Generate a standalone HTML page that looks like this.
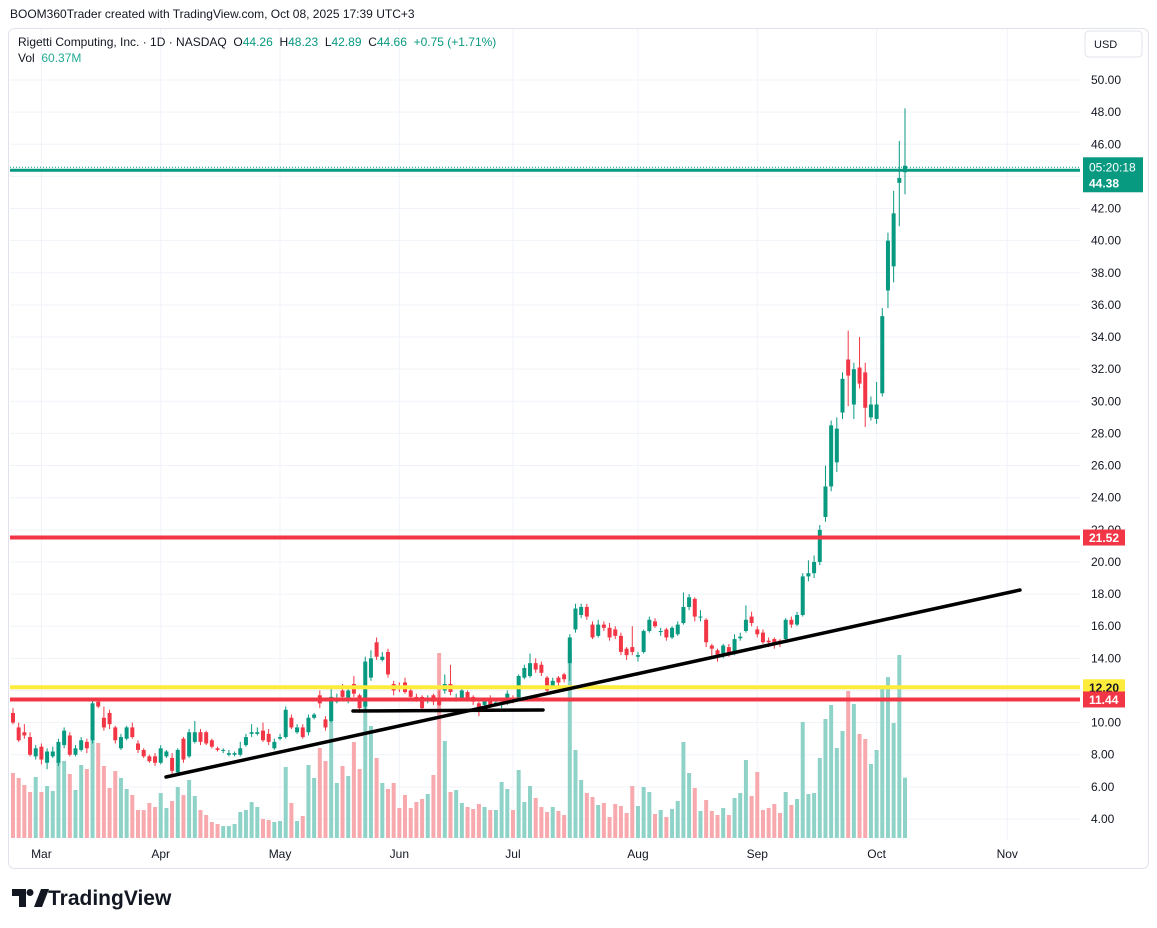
<!DOCTYPE html>
<html><head><meta charset="utf-8"><style>
html,body{margin:0;padding:0;background:#fff;}
svg{display:block;font-family:"Liberation Sans",Arial,sans-serif;}
.pre{white-space:pre;}
</style></head><body>
<svg id="chart" width="1157" height="928" viewBox="0 0 1157 928" xmlns="http://www.w3.org/2000/svg">
<rect x="0" y="0" width="1157" height="928" fill="#ffffff"/>
<text x="10" y="18" font-size="12" fill="#131722">BOOM360Trader created with TradingView.com, Oct 08, 2025 17:39 UTC+3</text>
<rect x="8.5" y="28.5" width="1140" height="840" rx="6" fill="none" stroke="#e0e3eb"/>
<g id="grid"></g>
<g id="vol"></g>
<g id="candles"></g>
<g id="lines"></g>
<g id="axis"></g>
<g id="taxis"></g>
<text class="pre" x="18" y="46" font-size="12" fill="#131722">Rigetti Computing, Inc. · 1D · NASDAQ  O<tspan fill="#089981">44.26</tspan>  H<tspan fill="#089981">48.23</tspan>  L<tspan fill="#089981">42.89</tspan>  C<tspan fill="#089981">44.66</tspan>  <tspan fill="#089981">+0.75 (+1.71%)</tspan></text>
<text class="pre" x="18" y="62" font-size="12" fill="#131722">Vol  <tspan fill="#22ab94">60.37M</tspan></text>
<rect x="1085" y="31" width="57" height="26" rx="4" fill="#fff" stroke="#e0e3eb"/>
<text x="1094" y="48" font-size="11" fill="#131722">USD</text>
<g>
<path d="M12 889h14v18h-7v-11h-7z" fill="#131722"/>
<circle cx="30" cy="892.5" r="3.5" fill="#131722"/>
<path d="M34 907l7-18h8l-7 18z" fill="#131722"/>
<text x="48" y="905" font-size="21" font-weight="bold" fill="#131722">TradingView</text>
</g>
</svg>
<script>
const opens=[10.6,9.7,9.4,9.1,7.9,8.5,7.5,7.9,7.5,8.6,9.2,8.0,8.3,8.8,8.9,11.3,10.3,10.6,9.7,8.4,9.0,9.7,8.7,8.3,7.9,7.9,7.5,7.9,7.8,6.9,9.0,7.9,8.8,9.4,9.4,8.9,8.4,8.3,8.0,8.0,8.0,8.6,9.3,9.3,9.5,9.3,8.4,9.0,9.1,10.3,9.4,9.7,9.4,10.3,11.7,10.2,10.1,11.3,12.0,11.4,12.4,11.7,11.0,12.8,15.0,13.9,14.4,12.4,12.2,12.5,12.0,11.6,11.6,11.35,11.7,11.4,12.0,12.4,11.5,11.5,11.9,11.6,11.2,11.1,11.5,11.2,11.15,11.2,11.5,11.5,12.8,12.9,13.7,13.6,12.8,12.2,12.8,13.0,13.7,15.8,16.7,17.2,16.1,15.4,16.1,15.9,15.8,15.4,14.6,14.7,14.1,14.4,15.7,16.3,15.65,15.8,15.3,15.5,16.2,17.2,17.7,16.55,16.4,14.8,14.5,14.3,14.7,14.3,15.25,15.7,16.6,15.8,15.6,15.1,15.2,15.1,15.2,16.4,16.1,16.7,19.1,19.3,20.0,22.8,24.7,26.2,29.3,32.6,29.8,32.1,31.8,29.0,28.9,30.5,36.9,38.4,43.6,44.26];
const closes=[10.0,8.9,9.2,8.0,8.4,7.7,8.2,8.2,8.8,9.5,8.0,8.4,8.9,8.4,11.2,11.0,9.7,9.9,8.9,9.1,9.7,9.1,8.3,7.9,7.6,7.5,8.4,8.2,7.0,8.3,7.7,9.4,9.4,8.8,8.7,8.5,8.3,8.3,8.1,8.1,8.4,9.1,9.4,9.4,8.9,8.8,8.8,9.1,10.8,9.7,9.7,9.1,10.3,10.5,11.2,9.7,11.6,11.45,11.6,12.0,11.8,10.9,13.8,14.0,14.1,14.1,13.0,12.0,12.1,11.9,11.6,11.55,10.9,11.45,11.3,11.1,12.4,11.9,11.55,12.0,11.5,11.3,10.9,11.4,11.0,11.25,11.2,11.8,11.3,12.9,13.4,13.7,13.3,13.1,12.0,12.6,12.5,12.7,15.3,17.1,17.2,16.6,15.3,16.1,15.9,15.3,15.4,14.4,14.2,14.4,14.2,15.7,16.4,16.0,15.7,15.3,15.9,16.1,17.2,17.8,16.6,16.6,15.0,14.6,14.2,14.8,14.3,15.2,15.35,16.4,16.2,15.5,15.0,15.0,14.9,15.0,16.4,16.1,16.7,19.1,19.3,20.0,22.0,24.7,28.5,28.3,31.4,31.6,32.0,31.1,29.6,29.8,29.8,35.3,40.0,41.7,43.9,44.66];
const highs=[10.9,10.0,9.9,9.4,8.6,8.7,8.4,8.5,9.0,9.7,9.4,8.6,9.1,9.0,11.4,11.5,11.0,10.8,9.8,9.3,9.8,10.0,8.9,8.4,8.0,8.1,8.6,8.3,8.1,8.4,9.1,9.6,10.1,9.6,9.5,9.0,8.5,8.4,8.3,8.2,8.8,9.3,9.9,9.7,10.0,9.6,9.0,9.3,11.0,10.5,9.9,9.9,10.5,10.6,12.0,10.4,12.3,11.8,12.4,12.2,12.9,11.8,14.1,14.5,15.3,14.4,14.6,12.6,12.5,12.8,12.2,11.8,11.7,11.7,11.8,12.0,13.0,13.6,11.8,12.2,12.0,11.7,11.3,11.5,11.7,11.4,11.3,12.0,11.7,13.0,13.6,14.3,14.0,13.8,12.9,12.8,12.9,13.1,15.5,17.4,17.4,17.4,16.3,16.4,16.3,16.2,16.0,15.6,14.7,16.0,14.4,15.8,16.6,16.5,15.9,15.9,16.0,16.3,18.1,18.0,17.8,17.0,16.5,14.9,14.6,14.9,14.9,15.5,15.6,17.3,16.9,16.0,15.8,15.3,15.3,15.2,16.5,16.6,16.9,19.3,20.1,20.4,22.3,26.0,28.8,29.0,31.8,34.4,32.4,34.0,32.4,30.3,31.2,35.8,40.5,43.1,46.2,48.23];
const lows=[9.9,8.8,9.0,7.9,7.7,7.4,7.1,7.8,7.3,8.4,7.9,7.9,8.2,8.1,8.7,10.9,9.5,9.6,8.7,8.3,8.9,9.0,8.1,7.8,7.5,7.3,7.4,7.8,6.8,6.7,7.5,7.8,8.7,8.6,8.6,8.4,8.2,8.1,7.9,7.9,7.9,8.5,9.1,9.2,8.8,8.6,8.3,8.9,9.0,9.6,9.3,9.0,9.2,10.2,10.9,9.5,10.0,11.2,11.4,11.2,11.6,10.6,10.8,12.6,13.9,13.8,12.8,11.7,11.9,11.8,11.4,11.3,10.7,11.2,11.1,11.0,11.8,11.7,11.3,11.4,11.3,11.1,10.4,10.9,10.9,11.0,10.9,11.1,11.2,11.4,12.7,12.8,13.1,12.9,11.9,12.1,12.3,12.5,12.6,15.6,16.5,16.4,15.2,15.3,15.7,15.1,15.2,14.2,13.9,14.2,13.8,14.3,15.6,15.9,15.4,15.1,15.2,15.4,16.1,17.0,16.3,16.3,14.7,14.1,13.8,14.0,14.1,14.2,15.1,15.6,16.0,15.3,14.9,14.7,14.6,14.7,15.1,15.9,16.0,16.6,18.8,19.0,19.8,22.5,24.4,25.6,28.9,29.7,28.9,30.8,28.4,28.8,28.6,30.3,35.8,37.4,40.9,42.89];
const volumes=[65,60,53,46,61,46,52,47,77,77,64,48,73,69,98,95,72,50,67,60,49,43,28,28,35,31,45,30,37,51,43,58,42,28,23,16,14,12,12,14,26,28,36,31,19,18,16,17,71,35,17,22,73,60,90,77,140,55,72,62,96,69,135,112,80,55,49,55,30,43,30,36,39,44,63,185,97,46,48,35,31,29,34,31,28,28,56,49,28,68,36,52,40,31,26,31,27,23,188,88,58,45,41,33,35,21,34,32,25,52,32,51,46,24,28,21,29,37,96,65,50,27,38,27,23,30,23,40,45,78,42,66,28,30,34,25,46,33,39,116,44,45,80,119,133,90,107,147,134,104,99,74,88,152,161,115,183,60.37];
const priceTicks=[50,48,46,42,40,38,36,34,32,30,28,26,24,22,20,18,16,14,10,8,6,4];
const monthLabels=["Mar","Apr","May","Jun","Jul","Aug","Sep","Oct","Nov"];
const monthIndex=[5,26,47,68,88,110,131,152,175];
const levelPrices=[44.38,21.52,12.20,11.44];

const NS="http://www.w3.org/2000/svg";
const X0=13, DX=892/157;
function xs(i){return X0+i*DX;}
function ys(p){return 80+(50-p)*16.065;}
function yv(v){return 838-v*1.0;}
function mk(tag,attrs,parent){const e=document.createElementNS(NS,tag);for(const k in attrs)e.setAttribute(k,attrs[k]);parent.appendChild(e);return e;}
const grid=document.getElementById('grid'),vol=document.getElementById('vol'),cg=document.getElementById('candles'),lg=document.getElementById('lines'),ax=document.getElementById('axis'),tx=document.getElementById('taxis');
const allTicks=[50,48,46,44,42,40,38,36,34,32,30,28,26,24,22,20,18,16,14,12,10,8,6,4];
allTicks.forEach(p=>{const l=mk('line',{x1:10,x2:1080,y1:ys(p),y2:ys(p),stroke:'#f0f3fa','stroke-width':1},grid);

});
monthIndex.forEach(i=>{const l=mk('line',{x1:xs(i),x2:xs(i),y1:29,y2:840,stroke:'#f0f3fa','stroke-width':1},grid);

});
volumes.forEach((v,i)=>{const up=closes[i]>=opens[i];
const r=mk('rect',{x:xs(i)-2,y:yv(v),width:4,height:838-yv(v),fill:up?'#8fd3c8':'#f7a9ad'},vol);

});
opens.forEach((o,i)=>{const c=closes[i];const up=c>=o;const col=up?'#089981':'#f23645';
const w=mk('line',{x1:xs(i),x2:xs(i),y1:ys(highs[i]),y2:ys(lows[i]),stroke:col,'stroke-width':1},cg);


const top=ys(Math.max(o,c)),bot=ys(Math.min(o,c));
const b=mk('rect',{x:xs(i)-2,y:top,width:4,height:Math.max(1,bot-top),fill:col},cg);

});
const lvlCol=['#089981','#f23645','#ffeb3b','#f23645'];
const dl=mk('line',{x1:10,x2:1080,y1:ys(levelPrices[0])-3,y2:ys(levelPrices[0])-3,stroke:'#089981','stroke-width':1,'stroke-dasharray':'1 2'},lg);


levelPrices.forEach((p,k)=>{const l=mk('line',{x1:10,x2:1080,y1:ys(p),y2:ys(p),stroke:lvlCol[k],'stroke-width':k==0?3:4},lg);

});
const t1=mk('line',{x1:166,y1:777,x2:1020,y2:590,stroke:'#000','stroke-width':3.5,'stroke-linecap':'round'},lg);


const t2=mk('line',{x1:353,y1:711,x2:543,y2:710,stroke:'#000','stroke-width':3.5,'stroke-linecap':'round'},lg);


priceTicks.forEach(p=>{const t=mk('text',{x:1091,y:ys(p)+4,'font-size':12,fill:'#131722'},ax);t.textContent=p.toFixed(2);

});
const tagCols=['#089981','#f23645','#ffeb3b','#f23645'],tagTxt=['#fff','#fff','#131722','#fff'];
levelPrices.forEach((p,k)=>{const y=ys(p);
if(k==0){const r=mk('rect',{x:1083,y:y-13,width:60,height:35,fill:tagCols[0]},ax);


const t=mk('text',{x:1089,y:y+1,'font-size':12,fill:'#fff'},ax);t.textContent='05:20:18';


const t2=mk('text',{x:1089,y:y+17,'font-size':12,'font-weight':'bold',fill:'#fff'},ax);t2.textContent=p.toFixed(2);

}
else{const r=mk('rect',{x:1083,y:y-8,width:42,height:16,fill:tagCols[k]},ax);


const t=mk('text',{x:1089,y:y+4.5,'font-size':12,'font-weight':'bold',fill:tagTxt[k]},ax);t.textContent=p.toFixed(2);

}});
monthLabels.forEach((m,k)=>{const t=mk('text',{x:xs(monthIndex[k]),y:858,'font-size':12,fill:'#131722','text-anchor':'middle'},tx);t.textContent=m;

});
</script>
</body></html>
